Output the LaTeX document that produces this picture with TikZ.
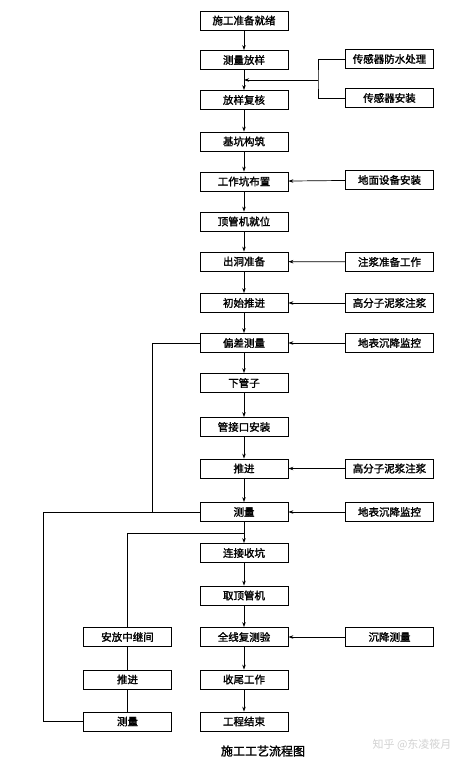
\documentclass[tikz,border=0pt]{standalone}
\usepackage{fontspec}
\usepackage{tikz}
\usetikzlibrary{arrows.meta,positioning}
\newfontfamily\cjk[AutoFakeBold=1.6]{Noto Sans CJK SC}

\tikzset{
    stepbox/.style={draw, line width=0.8pt, minimum width=88pt, minimum height=19pt,
        inner sep=0pt, font=\cjk\bfseries\fontsize{10.5}{12}\selectfont},
    flow/.style={line width=0.7pt, -{Stealth[length=5pt,width=3.5pt]}},
    plain/.style={line width=0.7pt}
}

\begin{document}
\begin{tikzpicture}[x=1pt, y=-1pt]
                    \useasboundingbox[fill=white] (0,0) rectangle (474,765);

                    % main column
                    \node[stepbox] (zb) at (244, 20.5) {施工准备就绪};
                    \node[stepbox] (clfy) at (244, 60) {测量放样};
                    \node[stepbox] (fyfh) at (244, 100) {放样复核};
                    \node[stepbox] (jkgz) at (244, 141.5) {基坑构筑};
                    \node[stepbox] (gzk) at (244, 181.5) {工作坑布置};
                    \node[stepbox] (jw) at (244, 221.5) {顶管机就位};
                    \node[stepbox] (cd) at (244, 261.5) {出洞准备};
                    \node[stepbox] (cstj) at (244, 303) {初始推进};
                    \node[stepbox] (pc) at (244, 343) {偏差测量};
                    \node[stepbox] (xgz) at (244, 383) {下管子};
                    \node[stepbox] (jk) at (244, 427) {管接口安装};
                    \node[stepbox] (tj) at (244, 468.5) {推进};
                    \node[stepbox] (cl) at (244, 512) {测量};
                    \node[stepbox] (sk) at (244, 553) {连接收坑};
                    \node[stepbox] (qj) at (244, 595.5) {取顶管机};
                    \node[stepbox] (fc) at (244, 637) {全线复测验};
                    \node[stepbox] (sw) at (244, 679.5) {收尾工作};
                    \node[stepbox] (js) at (244, 721.5) {工程结束};

                    % right column
                    \node[stepbox] (fs) at (389.5, 59) {传感器防水处理};
                    \node[stepbox] (az) at (389.5, 98) {传感器安装};
                    \node[stepbox] (dm) at (389.5, 180) {地面设备安装};
                    \node[stepbox] (zj) at (389.5, 262) {注浆准备工作};
                    \node[stepbox] (nj1) at (389.5, 303) {高分子泥浆注浆};
                    \node[stepbox] (jc1) at (389.5, 343) {地表沉降监控};
                    \node[stepbox] (nj2) at (389.5, 468.5) {高分子泥浆注浆};
                    \node[stepbox] (jc2) at (389.5, 512) {地表沉降监控};
                    \node[stepbox] (cj) at (389.5, 637) {沉降测量};

                    % left column
                    \node[stepbox] (zjj) at (127.5, 637) {安放中继间};
                    \node[stepbox] (tj2) at (127.5, 679.5) {推进};
                    \node[stepbox] (cl2) at (127.5, 721.5) {测量};

                    \node[font=\cjk\bfseries\fontsize{12}{14}\selectfont] (title) at (263, 751) {施工工艺流程图};
                    \node[font=\cjk\fontsize{11}{13}\selectfont, text=gray!35] (wm) at (412, 745) {知乎 @东凌筱月};

                    \coordinate (m1) at (244, 80);
                    \coordinate (r1) at (318, 80);
                    \coordinate (m2) at (244, 533);
                    \coordinate (k1) at (152, 343);
                    \coordinate (k2) at (152, 513);
                    \coordinate (k3) at (43, 512);
                    \coordinate (k4) at (43, 721.5);
                    \coordinate (k5) at (127.5, 533);

                    % main flow
                    \draw[flow] (zb) -- (clfy);
                    \draw[flow] (clfy) -- (fyfh);
                    \foreach \a/\b in {fyfh/jkgz, jkgz/gzk, gzk/jw, jw/cd, cd/cstj, cstj/pc,
                        pc/xgz, xgz/jk, jk/tj, tj/cl, cl/sk, sk/qj, qj/fc, fc/sw, sw/js}
                        \draw[flow] (\a) -- (\b);

                    % side inputs
                    \draw[plain] (fs.west) -| (r1) |- (az.west);
                    \draw[flow] (r1) -- (m1);
                    \foreach \a/\b in {dm/gzk, zj/cd, nj1/cstj, jc1/pc, nj2/tj, jc2/cl, cj/fc}
                        \draw[flow] (\a) -- (\b);

                    % loops on the left
                    \draw[plain] (pc.west) -- (k1) -- (k2);
                    \draw[plain] (cl.west) -- (k3) -- (k4) -- (cl2.west);
                    \draw[plain] (zjj) -- (tj2) -- (cl2);
                    \draw[plain] (zjj.north) -- (k5) -- (m2);
                \end{tikzpicture}
\end{document}
